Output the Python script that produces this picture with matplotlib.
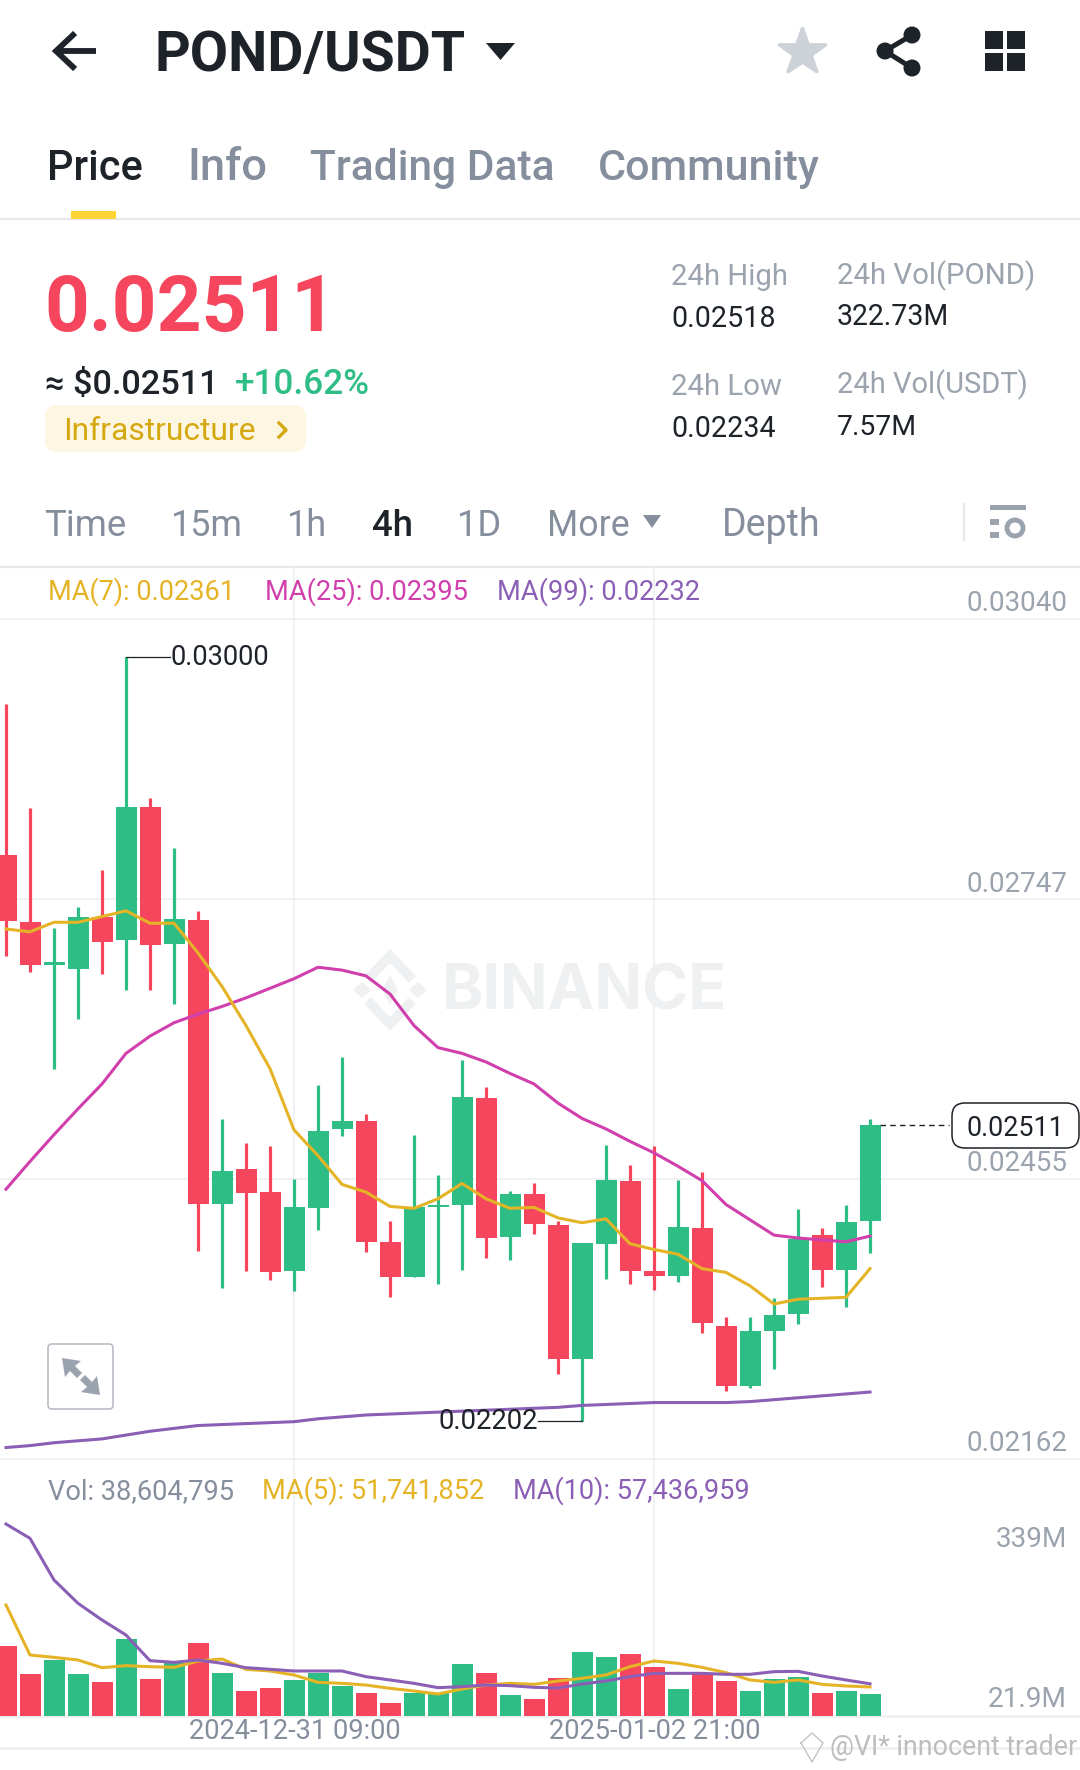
import matplotlib
matplotlib.use("Agg")
import matplotlib.pyplot as plt
from matplotlib.patches import FancyBboxPatch, Polygon, Rectangle, Circle
import numpy as np

plt.rcParams['font.family'] = ['Roboto', 'DejaVu Sans']

W, H = 1080, 1770
# ---------------- data ----------------
highs = [0.02951,0.02842,0.02717,0.02739,0.02778,0.03000,0.02853,0.02801,0.02735,0.02517,0.02492,0.02489,0.02455,
         0.02553,0.02582,0.02523,0.02411,0.02501,0.02459,0.02579,0.02551,0.02442,0.02450,0.02411,0.02388,0.02490,
         0.02469,0.02489,0.02454,0.02462,0.02310,0.02310,0.02330,0.02423,0.02403,0.02428,0.02517]
opens = [0.02793,0.02723,0.02678,0.02674,0.02728,0.02704,0.02844,0.02700,0.02725,0.02429,0.02465,0.02441,0.02359,
         0.02424,0.02507,0.02515,0.02389,0.02352,0.02425,0.02427,0.02539,0.02394,0.02439,0.02407,0.02267,0.02387,
         0.02453,0.02358,0.02353,0.02403,0.02301,0.02238,0.02296,0.02314,0.02396,0.02360,0.02411]
closes = [0.02724,0.02678,0.02681,0.02728,0.02702,0.02844,0.02699,0.02726,0.02429,0.02463,0.02440,0.02357,0.02425,
          0.02505,0.02515,0.02389,0.02352,0.02425,0.02427,0.02540,0.02393,0.02439,0.02408,0.02267,0.02388,0.02454,
          0.02358,0.02353,0.02404,0.02304,0.02238,0.02296,0.02313,0.02392,0.02360,0.02410,0.02511]
lows = [0.02688,0.02671,0.02570,0.02622,0.02669,0.02652,0.02652,0.02638,0.02379,0.02341,0.02358,0.02349,0.02338,
        0.02401,0.02500,0.02378,0.02331,0.02352,0.02345,0.02360,0.02372,0.02370,0.02397,0.02251,0.02202,0.02350,
        0.02345,0.02339,0.02347,0.02294,0.02233,0.02236,0.02256,0.02303,0.02342,0.02321,0.02377]
ma7 = [0.02716,0.02713,0.02723,0.02723,0.02729,0.02735,0.02722,0.02722,0.02691,0.02656,0.02615,0.02570,0.02506,
       0.02479,0.02449,0.02441,0.02426,0.02424,0.02434,0.02450,0.02434,0.02424,0.02425,0.02414,0.02409,0.02413,
       0.02387,0.02381,0.02376,0.02361,0.02357,0.02343,0.02324,0.02329,0.02330,0.02331,0.02361]
ma25 = [0.02444,0.02473,0.02501,0.02528,0.02554,0.02586,0.02604,0.02618,0.02627,0.02635,0.02644,0.02654,0.02664,
        0.02676,0.02673,0.02667,0.02648,0.02615,0.02592,0.02586,0.02577,0.02565,0.02554,0.02534,0.02518,0.02507,
        0.02494,0.02482,0.02468,0.02453,0.02428,0.02412,0.02396,0.02393,0.02391,0.02389,0.02395]
ma99 = [0.02174,0.02176,0.02179,0.02181,0.02183,0.02187,0.02191,0.02194,0.02197,0.02198,0.02199,0.02200,0.02201,
        0.02204,0.02206,0.02208,0.02209,0.02210,0.02211,0.02212,0.02213,0.02214,0.02215,0.02216,0.02218,0.02219,
        0.02220,0.02221,0.02221,0.02221,0.02221,0.02222,0.02224,0.02226,0.02228,0.02230,0.02232]
volumes = [124.7,74.8,99.8,74.3,60.6,137.2,65.9,93.9,130.7,76.0,44.6,50.5,64.2,76.0,54.1,40.4,22.6,41.0,40.4,92.1,
           76.0,36.8,30.9,68.3,114.0,105.1,109.9,86.7,48.1,77.2,61.8,45.1,65.9,70.1,41.6,44.6,38.6]
vol_ma5 = [197.8,108.7,104.5,99.8,86.1,89.7,87.9,86.7,98.0,101.6,83.2,80.2,73.1,60.0,58.2,55.2,49.3,44.6,39.2,48.1,
           55.2,58.2,56.4,62.4,67.1,73.1,87.9,98.0,93.9,86.7,77.2,64.2,60.0,64.2,56.4,53.5,51.7]
vol_ma10 = [342.1,316.6,242.4,200.8,171.1,144.3,98.6,95.6,99.8,93.9,86.1,83.2,80.2,80.2,80.2,70.1,64.2,58.2,50.5,
            52.3,55.2,54.1,51.1,49.9,57.0,62.4,70.1,76.0,76.0,76.0,74.3,74.3,79.0,79.6,71.3,64.2,57.4]
price_ticks = ["0.03040", "0.02747", "0.02455", "0.02162"]
date_labels = ["2024-12-31 09:00", "2025-01-02 21:00"]
date_index = [12, 27]

GREEN, RED = "#2EBD85", "#F6465D"
YEL, PINK, PUR = "#E5B426", "#D03FAC", "#8A5FB5"
DARK, GRAY, LGRAY, GRID = "#1E2329", "#848E9C", "#9AA3AE", "#EEF0F2"

fig = plt.figure(figsize=(W/100, H/100), dpi=100, facecolor="white")
def axpx(x0, y0, x1, y1, z):
    a = fig.add_axes([x0/W, 1-y1/H, (x1-x0)/W, (y1-y0)/H], zorder=z)
    a.patch.set_alpha(0)
    return a

bg = axpx(0, 0, W, H, 0); bg.set_xlim(0, W); bg.set_ylim(H, 0); bg.axis("off")
ov = axpx(0, 0, W, H, 5); ov.set_xlim(0, W); ov.set_ylim(H, 0); ov.axis("off")

# ---------------- price pane ----------------
n = len(opens)
idx = np.arange(n)
xlim = (-6/24, (W-6)/24)
ax = axpx(0, 619, W, 1459, 2)
ax.set_xlim(*xlim); ax.set_ylim(0.02162, 0.03040); ax.axis("off")
col = [GREEN if c >= o else RED for o, c in zip(opens, closes)]
ax.vlines(idx, lows, highs, colors=col, lw=2.3, zorder=2)
ax.bar(idx, np.abs(np.array(closes)-np.array(opens)), bottom=np.minimum(opens, closes),
       width=0.875, color=col, zorder=3)
ax.plot(idx, ma99, color=PUR, lw=2.2, zorder=4)
ax.plot(idx, ma25, color=PINK, lw=2.2, zorder=4)
ax.plot(idx, ma7, color=YEL, lw=2.2, zorder=5)
# high / low / last annotations
hi = int(np.argmax(highs)); lo = int(np.argmin(lows))
ax.plot([hi, hi+1.85], [highs[hi], highs[hi]], color=DARK, lw=0.9, zorder=6)
ax.plot([lo-1.85, lo], [lows[lo], lows[lo]], color=DARK, lw=0.9, zorder=6)
ax.plot([n-0.6, n+2.3], [closes[-1], closes[-1]], color=DARK, lw=1, ls=(0, (4, 3)), zorder=6)

# ---------------- volume pane ----------------
vax = axpx(0, 1480, W, 1716, 2)
vax.set_xlim(*xlim); vax.set_ylim(0, 236*1.782); vax.axis("off")
vax.bar(idx, volumes, width=0.875, color=col, zorder=2)
vax.plot(idx, vol_ma5, color=YEL, lw=2.2, zorder=3)
vax.plot(idx, vol_ma10, color=PUR, lw=2.2, zorder=4)

# ---------------- grid / rules ----------------
for y in (619, 899, 1179, 1459, 1716, 1748):
    bg.plot([0, W], [y, y], color=GRID, lw=1.3 if y < 1700 else 2)
for y in (219, 567):
    bg.plot([0, W], [y, y], color="#E6E8EA", lw=1.6)
for i in date_index:
    x = 6 + 24*i
    bg.plot([x, x], [567, 1716], color=GRID, lw=1.3)

# watermark
WM = "#EEF0F1"
for pts in ([(390,975),(398,990),(390,1005),(382,990)],
            [(353,990),(362,982),(371,990),(362,998)],
            [(409,990),(418,982),(427,990),(418,998)]):
    bg.add_patch(Polygon(pts, closed=True, fc=WM, ec="none"))
bg.plot([371,390,409],[976,956,976], color=WM, lw=7, solid_joinstyle="miter")
bg.plot([371,390,409],[1004,1024,1004], color=WM, lw=7, solid_joinstyle="miter")

# ---------------- text helper ----------------
r = fig.canvas.get_renderer()
def T(x0, x1, base, s, color, weight="normal", a=ov, family=None):
    t = a.text(x0, base, s, color=color, fontsize=20, fontweight=weight, ha="left", va="baseline", zorder=20)
    if family:
        t.set_family(family)
    bb = t.get_window_extent(r)
    t.set_fontsize(20*(x1+2-x0)/bb.width)
    return t

T(442, 726, 1010, "BINANCE", WM, "bold", a=bg, family=["Inter", "DejaVu Sans"])

# header
T(155, 464, 71, "POND/USDT", DARK, "bold")
ov.plot([55, 96], [51, 51], color=DARK, lw=4.2, solid_capstyle="butt")
ov.plot([73, 56, 73], [35, 51, 67], color=DARK, lw=4.2, solid_joinstyle="miter")
ov.add_patch(Polygon([(486,43),(515,43),(500.5,60)], closed=True, fc=DARK, ec="none"))
ov.plot([802], [52], marker="*", ms=36, color="#CDD1D8", mec="#CDD1D8", mew=2)
for (a0, b0) in [(912,35),(912,68)]:
    ov.plot([885, a0], [51, b0], color=DARK, lw=3.6)
for (a0, b0) in [(912,35),(885,51),(912,68)]:
    ov.add_patch(Circle((a0, b0), 8.5, fc=DARK, ec="none"))
for (a0, b0) in [(985,31),(1007,31),(985,53),(1007,53)]:
    ov.add_patch(Rectangle((a0, b0), 18, 18, fc=DARK, ec="none"))

# tabs
T(47, 141, 180, "Price", DARK, "medium")
T(187, 265, 180, "Info", GRAY, "medium")
T(310, 553, 180, "Trading Data", GRAY, "medium")
T(598, 818, 180, "Community", GRAY, "medium")
ov.add_patch(Rectangle((71, 211), 45, 8, fc="#FCD535", ec="none"))

# price block
T(44, 334, 331, "0.02511", RED, "bold")
T(45, 217, 394, "≈ $0.02511", DARK, "medium")
T(235, 368, 394, "+10.62%", GREEN, "medium")
ov.add_patch(FancyBboxPatch((56, 416), 239, 25, boxstyle="round,pad=0,rounding_size=0", fc="#FDF6E3", ec="#FDF6E3", lw=16, joinstyle="round"))
T(63, 253, 440, "Infrastructure", "#D6A80F")
ov.plot([279, 286, 279], [423, 430, 437], color="#D6A80F", lw=2.4)

for x0, x1, base, s, c in [(671, 786, 285, "24h High", LGRAY), (671, 773, 327, "0.02518", DARK),
                           (671, 780, 395, "24h Low", LGRAY), (671, 773, 437, "0.02234", DARK),
                           (837, 1033, 284, "24h Vol(POND)", LGRAY), (837, 947, 325, "322.73M", DARK),
                           (837, 1026, 393, "24h Vol(USDT)", LGRAY), (837, 915, 435, "7.57M", DARK)]:
    T(x0, x1, base, s, c)

# toolbar
for x0, x1, s, c in [(44, 124, "Time", GRAY), (171, 241, "15m", GRAY), (287, 325, "1h", GRAY),
                     (372, 411, "4h", DARK), (457, 499, "1D", GRAY), (547, 627, "More", GRAY),
                     (722, 818, "Depth", GRAY)]:
    T(x0, x1, 536, s, c, "medium" if s == "4h" else "normal")
ov.add_patch(Polygon([(643,515),(661,515),(652,528)], closed=True, fc=GRAY, ec="none"))
ov.plot([964, 964], [504, 540], color="#E6E8EA", lw=1.5)
ov.add_patch(Rectangle((990, 505), 36, 5, fc=LGRAY, ec="none"))
ov.add_patch(Rectangle((990, 519), 9, 6, fc=LGRAY, ec="none"))
ov.add_patch(Rectangle((990, 532), 9, 6, fc=LGRAY, ec="none"))
ov.add_patch(Circle((1015, 528), 8, fc="white", ec=LGRAY, lw=3.5))

# MA row
T(48, 233, 600, "MA(7): 0.02361", YEL)
T(265, 466, 600, "MA(25): 0.02395", PINK)
T(497, 698, 600, "MA(99): 0.02232", PUR)

# axis labels
for s, base in zip(price_ticks, (611, 891.5, 1171, 1451)):
    T(966, 1065, base, s, LGRAY)
T(171, 268, 665, "0.03000", DARK)
T(438, 536, 1429, "0.02202", DARK)
ov.add_patch(FancyBboxPatch((952, 1103), 127, 45, boxstyle="round,pad=0,rounding_size=13", fc="white", ec=DARK, lw=1.1))
T(966, 1062, 1135.5, "0.02511", DARK)

# expand button
ov.add_patch(FancyBboxPatch((48, 1344), 65, 65, boxstyle="round,pad=0,rounding_size=4", fc="white", ec="#B7BDC6", lw=1.2))
ov.add_patch(Polygon([(62,1358),(81,1361),(75,1366),(82,1373),(77,1378),(70,1371),(65,1377)], closed=True, fc=LGRAY, ec="none"))
ov.add_patch(Polygon([(100,1395),(81,1392),(87,1387),(80,1380),(85,1375),(92,1382),(97,1376)], closed=True, fc=LGRAY, ec="none"))

# volume labels
T(48, 232, 1499, "Vol: 38,604,795", GRAY)
T(262, 482, 1499, "MA(5): 51,741,852", YEL)
T(513, 747, 1499, "MA(10): 57,436,959", PUR)
T(996, 1065, 1547, "339M", LGRAY)
T(988, 1065, 1707, "21.9M", LGRAY)
for s, i in zip(date_labels, date_index):
    x = 6 + 24*i
    T(x-105, x+105, 1739, s, GRAY)

# bottom-right credit
T(830, 1074, 1755, "@VI* innocent trader", "#BDBDBD")
ov.plot([801, 812, 823, 812, 801], [1743, 1733, 1743, 1762, 1743], color="#C4C4C4", lw=1)

fig.savefig("out.png", dpi=100, facecolor="white")
